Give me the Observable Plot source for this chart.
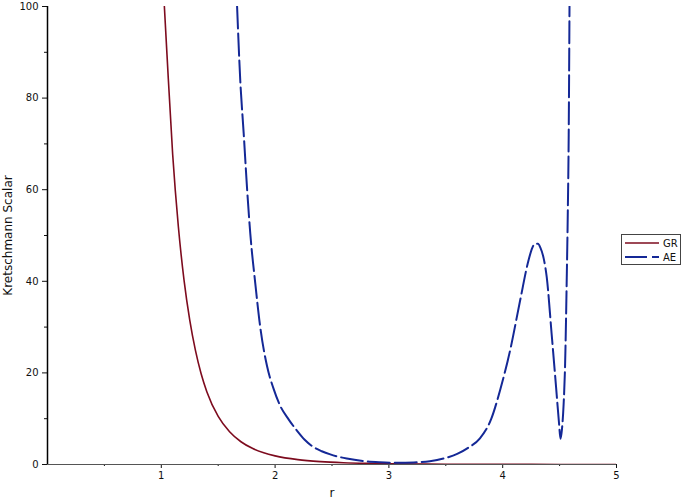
<!DOCTYPE html>
<html>
<head>
<meta charset="utf-8">
<script src="https://cdn.jsdelivr.net/npm/d3@7"></script>
<script src="https://cdn.jsdelivr.net/npm/@observablehq/plot@0.6"></script>
<style>
  body { margin: 0; background: #fff; }
  #wrap { position: relative; width: 685px; height: 499px; font-family: "DejaVu Sans", sans-serif; }
  #legend { position: absolute; left: 621px; top: 234px; width: 58px; height: 29px; border: 1px solid #444; background: #fff; }
</style>
</head>
<body>
<div id="wrap">
  <div id="chart"></div>
  <div id="legend"></div>
</div>
<script>
// GR curve (r, Kretschmann scalar)
const grR = [1.027, 1.05, 1.1, 1.15, 1.2, 1.25, 1.3, 1.35, 1.4, 1.5, 1.6, 1.7, 1.8, 1.9, 2.0, 2.2, 2.4, 2.6, 2.8, 3.0, 3.5, 4.0, 4.5, 5.0];
const grK = [100, 89.5, 67.7, 51.9, 40.2, 31.5, 24.9, 19.8, 15.9, 10.5, 7.15, 4.97, 3.53, 2.55, 1.88, 1.06, 0.63, 0.39, 0.25, 0.17, 0.065, 0.029, 0.015, 0.008];
// AE curve
const aeR = [1.666, 1.694, 1.724, 1.753, 1.782, 1.826, 1.870, 1.929, 1.987, 2.045, 2.12, 2.192, 2.26, 2.338, 2.41, 2.485, 2.63, 2.777, 2.92, 3.07, 3.22, 3.36, 3.48, 3.6, 3.7, 3.8, 3.9, 3.98, 4.065, 4.153, 4.226, 4.26, 4.284, 4.31, 4.33, 4.36, 4.387, 4.43, 4.469, 4.495, 4.508, 4.52, 4.535, 4.548, 4.562, 4.572, 4.58, 4.587];
const aeK = [100, 83.8, 72.3, 60.5, 50.4, 39.5, 29.9, 21.5, 16.5, 12.8, 9.8, 7.4, 5.4, 3.8, 2.9, 2.2, 1.3, 0.75, 0.5, 0.38, 0.45, 0.72, 1.3, 2.3, 3.7, 5.7, 10.0, 16.5, 24.9, 35.8, 44.5, 47.3, 48.2, 48.2, 47.4, 45, 40.9, 28.5, 16.9, 9, 5.6, 7.5, 13, 21.5, 39.5, 55, 72, 100];

const yMajor = [0, 20, 40, 60, 80, 100];
const yMinor = [10, 30, 50, 70, 90];
const xMajor = [1, 2, 3, 4, 5];
const xMinor = [0.5, 1.5, 2.5, 3.5, 4.5];

const seriesNames = ["GR", "AE"];
const seriesColors = ["#7d0b1e", "#142896"];
const dash = "22,5";

const gr = grR.map((r, i) => ({r, k: grK[i]}));
const ae = aeR.map((r, i) => ({r, k: aeK[i]}));

const chart = Plot.plot({
  width: 685,
  height: 499,
  marginLeft: 47,
  marginRight: 69,
  marginTop: 6,
  marginBottom: 35,
  style: {fontFamily: "DejaVu Sans, sans-serif", fontSize: "10px", color: "#111", background: "#fff"},
  x: {domain: [0, 5]},
  y: {domain: [0, 100]},
  marks: [
    Plot.axisY({ticks: yMajor, tickSize: 5, tickPadding: 4, label: "Kretschmann Scalar", labelAnchor: "center", labelArrow: "none", labelOffset: 44, fontSize: 10}),
    Plot.axisY({ticks: yMinor, tickSize: 3, tickFormat: () => "", label: null}),
    Plot.axisX({ticks: xMajor, tickSize: 4, tickPadding: 3, tickFormat: d => String(d), label: "r", labelAnchor: "center", labelArrow: "none", labelOffset: 32, fontSize: 10}),
    Plot.axisX({ticks: xMinor, tickSize: 2, tickFormat: () => "", label: null}),
    Plot.line(gr, {x: "r", y: "k", stroke: seriesColors[0], strokeWidth: 1.6, curve: "monotone-x", clip: true}),
    Plot.line(ae, {x: "r", y: "k", stroke: seriesColors[1], strokeWidth: 2, strokeDasharray: dash, curve: "monotone-x", clip: true}),
    Plot.ruleY([0], {stroke: "#555", strokeWidth: 1.2}),
    Plot.ruleX([0], {stroke: "#000", strokeWidth: 1.5})
  ]
});
chart.querySelectorAll('[aria-label="y-axis label"], [aria-label="x-axis label"]').forEach(g => {
  g.setAttribute("font-size", "12");
  g.style.fontSize = "12px";
});
document.getElementById("chart").appendChild(chart);

// legend
const lg = d3.select("#legend").append("svg").attr("width", 58).attr("height", 29)
  .style("font-family", "DejaVu Sans, sans-serif").style("font-size", "10px");
seriesNames.forEach((name, i) => {
  const y = 8 + i * 14;
  lg.append("line").attr("x1", 3).attr("x2", 37).attr("y1", y).attr("y2", y)
    .attr("stroke", seriesColors[i]).attr("stroke-width", i === 0 ? 1.6 : 2)
    .attr("stroke-dasharray", i === 0 ? null : dash);
  lg.append("text").attr("x", 41).attr("y", y).attr("dy", "0.35em").attr("fill", "#111").text(name);
});
</script>
</body>
</html>
